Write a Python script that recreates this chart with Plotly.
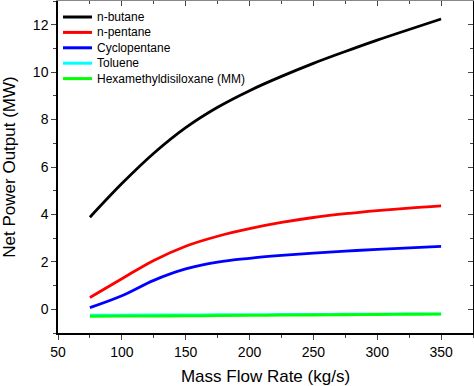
import plotly.graph_objects as go

mass_flow = [75, 100, 125, 150, 175, 200, 225, 250, 275, 300, 325, 350]

n_butane = [3.88, 5.30, 6.58, 7.66, 8.52, 9.22, 9.82, 10.37, 10.87, 11.35, 11.80, 12.24]
n_pentane = [0.50, 1.29, 2.06, 2.66, 3.08, 3.40, 3.66, 3.87, 4.03, 4.16, 4.27, 4.36]
cyclopentane = [0.07, 0.57, 1.22, 1.70, 1.99, 2.15, 2.27, 2.37, 2.45, 2.53, 2.59, 2.65]
toluene = [-0.25, -0.245, -0.24, -0.235, -0.23, -0.225, -0.22, -0.215, -0.21, -0.20, -0.195, -0.19]
mm = [-0.30, -0.29, -0.285, -0.28, -0.27, -0.26, -0.25, -0.24, -0.23, -0.22, -0.21, -0.20]

series_names = ["n-butane", "n-pentane", "Cyclopentane", "Toluene", "Hexamethyldisiloxane (MM)"]
series_values = [n_butane, n_pentane, cyclopentane, toluene, mm]
series_colors = ["#000000", "#ff0000", "#0000ff", "#00ffff", "#00ff00"]

FONT = "Arial, Liberation Sans, sans-serif"
W, H = 474, 386
ML, MR, MT, MB = 58, 1, 1, 53
PW, PH = W - ML - MR, H - MT - MB

fig = go.Figure()
for name, vals, color in zip(series_names, series_values, series_colors):
    fig.add_trace(go.Scatter(x=mass_flow, y=vals, mode="lines", name=name,
                             line=dict(color=color, width=2.8, shape="spline", smoothing=1.0),
                             showlegend=False))

# legend drawn as line samples + labels (compact spacing as in the reference)
leg_line_x0, leg_line_x1, leg_text_x = 5, 34, 37   # px from plot left
leg_first_y, leg_step = 16, 15.4                    # px from plot top
for i, (name, color) in enumerate(zip(series_names, series_colors)):
    py = leg_first_y + i * leg_step
    yp = 1 - py / PH
    fig.add_shape(type="line", xref="paper", yref="paper",
                  x0=leg_line_x0 / PW, x1=leg_line_x1 / PW, y0=yp, y1=yp,
                  line=dict(color=color, width=3))
    fig.add_annotation(xref="paper", yref="paper", x=leg_text_x / PW, y=yp,
                       xanchor="left", yanchor="middle", text=name, showarrow=False,
                       font=dict(size=12, family=FONT, color="black"))

x_range = [50, 375]
y_range = [-1, 13]

fig.update_layout(
    width=W, height=H,
    margin=dict(l=ML, r=MR, t=MT, b=MB),
    paper_bgcolor="white", plot_bgcolor="white",
    font=dict(family=FONT, color="black"),
    showlegend=False,
    xaxis=dict(range=x_range, dtick=50, tick0=50, ticks="outside", ticklen=5,
               tickwidth=1.2, showline=True, linecolor="black", linewidth=1.5,
               showgrid=False, zeroline=False, automargin=False,
               tickfont=dict(size=14),
               title=dict(text="Mass Flow Rate (kg/s)", font=dict(size=17), standoff=14),
               minor=dict(dtick=25, tick0=50, ticks="outside", ticklen=3, tickwidth=1.2,
                          showgrid=False)),
    yaxis=dict(range=y_range, dtick=2, tick0=0, ticks="outside", ticklen=5,
               tickwidth=1.2, showline=True, linecolor="black", linewidth=1.5,
               showgrid=False, zeroline=False, automargin=False,
               tickfont=dict(size=14),
               title=dict(text="Net Power Output (MW)", font=dict(size=17), standoff=23),
               minor=dict(dtick=1, tick0=0, ticks="outside", ticklen=3, tickwidth=1.2,
                          showgrid=False)),
    xaxis2=dict(range=x_range, overlaying="x", side="top", dtick=50, tick0=50,
                ticks="inside", ticklen=5, tickwidth=1.2, showline=True,
                linecolor="#888888", linewidth=1.5, showgrid=False, zeroline=False,
                showticklabels=False, automargin=False,
                minor=dict(dtick=25, tick0=50, ticks="inside", ticklen=3, tickwidth=1.2)),
    yaxis2=dict(range=y_range, overlaying="y", side="right", dtick=2, tick0=0,
                ticks="inside", ticklen=5, tickwidth=1.2, showline=True,
                linecolor="black", linewidth=1.5, showgrid=False, zeroline=False,
                showticklabels=False, automargin=False,
                minor=dict(dtick=1, tick0=0, ticks="inside", ticklen=3, tickwidth=1.2)),
)

fig.add_trace(go.Scatter(x=[None], y=[None], xaxis="x2", yaxis="y2",
                         showlegend=False, hoverinfo="skip"))

fig.write_html("out.html", config={"displayModeBar": False},
               post_script="document.body.style.margin='0';")
